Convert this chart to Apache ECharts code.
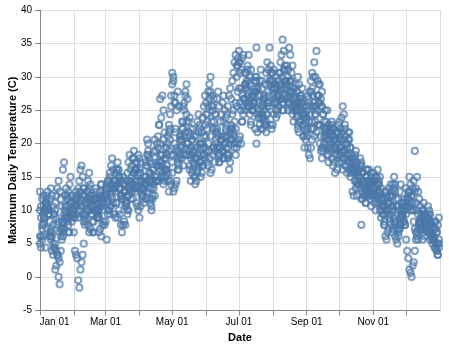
<!DOCTYPE html>
<html><head><meta charset="utf-8">
<script src="https://cdn.jsdelivr.net/npm/echarts@6/dist/echarts.min.js"></script>
<style>html,body{margin:0;padding:0;background:#fff}#c{width:449px;height:347px}</style>
</head><body><div id="c"></div>
<script>
// Tick labels for month starts (every other month labelled)
const tickLabels = ['Jan 01','','Mar 01','','May 01','','Jul 01','','Sep 01','','Nov 01',''];
const yTicks = [-5,0,5,10,15,20,25,30,35,40];

// Daily maximum temperature (C), one list per month, per year
const t2012 = [
[12.8,10.6,11.7,12.2,8.9,4.4,7.2,10.0,9.4,6.1,6.1,6.1,5.0,4.4,1.1,1.7,3.3,0.0,-1.1,7.2,8.3,6.7,8.3,10.0,8.9,8.9,6.7,6.7,9.4,8.3,9.4],
[10.0,8.9,11.7,10.6,12.2,11.1,12.8,10.6,12.2,13.3,8.9,8.3,10.0,7.8,6.7,7.2,10.0,6.7,6.7,10.0,11.1,12.8,8.9,6.7,7.2,6.1,7.8,8.3,7.8],
[8.3,5.6,9.4,10.0,10.6,12.2,13.3,13.9,9.4,8.9,11.1,8.9,10.0,9.4,7.8,6.7,7.8,8.3,7.8,11.1,9.4,10.0,12.8,13.3,13.9,11.7,13.3,12.8,11.1,10.6,10.0],
[8.9,10.6,12.2,11.7,13.3,13.9,17.2,20.6,18.9,15.6,11.7,10.6,11.7,13.9,12.2,14.4,16.7,19.4,22.8,26.7,23.9,27.2,25.0,17.8,15.0,16.1,14.4,12.8,14.4,13.9],
[15.6,12.8,13.3,13.9,14.4,16.1,18.9,20.6,21.1,23.3,25.6,26.1,27.2,24.4,20.0,18.9,16.7,17.8,18.3,16.1,15.0,13.9,14.4,15.6,16.7,17.2,15.0,16.7,20.0,18.3,17.8],
[18.9,17.2,16.7,17.8,15.6,16.1,18.3,19.4,17.2,20.0,22.2,21.1,17.8,19.4,20.6,18.9,17.8,20.0,21.7,24.4,18.3,16.1,17.2,20.6,22.2,25.0,19.4,18.3,19.4,20.0],
[20.6,21.1,20.0,23.3,26.7,25.0,28.9,28.3,31.1,33.3,26.1,22.8,25.0,27.2,26.1,22.2,20.0,21.7,23.9,22.8,25.6,24.4,22.2,25.0,26.7,23.3,26.1,27.8,25.6,22.8,22.2],
[22.8,24.4,26.7,28.3,26.1,27.2,27.8,28.9,30.0,26.7,31.1,31.7,28.3,28.9,31.1,34.4,33.3,29.4,27.8,23.3,26.7,25.6,25.0,30.0,28.9,27.2,26.1,22.8,21.1,24.4,23.3],
[21.1,22.2,23.3,25.6,27.8,28.3,30.0,26.1,24.4,21.7,22.8,27.2,28.9,26.7,25.6,24.4,23.3,25.0,21.7,22.2,20.6,21.7,22.2,23.3,21.1,22.2,19.4,20.6,21.7,22.8],
[23.3,21.1,19.4,18.9,20.6,22.2,20.0,17.8,18.3,17.2,15.6,16.1,12.8,12.2,16.1,14.4,13.9,15.6,15.0,13.3,11.7,12.8,13.9,12.2,11.1,12.2,13.3,16.1,14.4,15.6,13.9],
[14.4,13.3,15.0,13.9,12.2,11.1,10.0,8.9,10.6,9.4,7.8,10.0,12.8,11.7,13.3,11.1,12.2,10.0,13.9,15.0,13.9,10.6,9.4,10.0,7.2,7.8,9.4,8.9,11.1,10.6],
[13.3,11.7,12.8,15.0,10.6,11.1,10.0,8.3,7.2,6.7,6.1,5.6,7.8,8.3,7.2,5.6,6.7,6.1,7.2,7.8,8.9,6.7,5.6,6.1,5.0,5.6,8.3,7.2,6.7,5.0,5.6]
];
const t2013 = [
[5.0,6.1,7.8,9.4,8.9,10.0,11.1,10.6,9.4,6.7,5.6,3.9,3.3,4.4,5.0,3.9,3.3,2.8,2.2,3.9,5.6,6.1,7.2,8.9,10.6,12.2,11.7,13.9,15.0,11.1,10.0],
[10.6,11.1,12.8,9.4,8.9,10.0,11.7,10.6,9.4,8.3,9.4,10.6,11.1,10.0,11.7,12.2,9.4,8.3,10.6,11.7,10.0,8.9,9.4,11.1,12.8,13.9,10.6,11.7],
[12.2,13.3,11.1,10.0,9.4,10.6,11.7,13.3,14.4,12.8,11.1,13.9,16.1,15.0,13.3,12.2,11.7,12.8,10.6,11.1,10.0,12.2,13.9,14.4,16.7,17.8,15.6,13.3,16.1,17.2,18.3],
[17.8,14.4,13.3,12.2,15.0,13.9,11.7,12.8,14.4,13.3,11.1,10.0,12.2,13.3,15.0,14.4,16.7,14.4,17.2,16.1,15.0,18.3,20.6,21.7,19.4,16.7,15.6,18.9,22.2,25.6],
[28.9,29.4,27.2,26.1,25.0,27.8,25.6,21.1,19.4,17.8,16.7,18.3,21.7,23.3,20.0,18.3,16.1,14.4,15.6,17.2,16.7,15.0,17.8,16.1,18.3,20.0,17.2,15.6,16.7,18.3,19.4],
[21.1,23.3,25.6,26.7,27.8,25.6,22.2,19.4,18.9,20.6,21.7,19.4,17.2,18.3,20.6,21.1,23.3,21.1,19.4,18.3,17.8,20.0,21.7,22.2,20.6,21.1,23.3,26.1,30.0,31.7],
[32.2,30.6,28.3,27.2,25.6,26.7,28.9,29.4,27.8,25.6,24.4,23.3,25.6,27.2,28.3,30.0,34.4,24.4,23.9,25.0,27.2,28.3,26.1,23.3,22.8,24.4,25.6,27.2,28.9,30.6,29.4],
[27.2,28.3,26.1,23.9,25.0,27.2,29.4,30.6,28.3,26.1,25.0,27.2,28.9,31.7,30.0,29.4,27.8,25.6,25.0,26.7,28.3,25.6,23.9,22.8,21.7,23.3,25.0,26.1,24.4,22.8,24.4],
[25.6,27.2,26.1,24.4,22.2,23.3,25.6,32.2,30.0,33.9,29.4,26.1,22.8,21.1,19.4,18.9,20.0,21.7,22.2,18.3,17.2,18.9,19.4,17.8,16.7,17.2,15.6,18.3,16.1,17.2],
[18.3,19.4,17.2,16.1,17.8,18.9,16.7,15.6,17.2,16.1,15.0,16.7,17.8,15.6,14.4,13.3,12.2,13.9,15.0,14.4,7.8,11.7,12.2,13.3,11.1,12.8,13.9,12.2,11.7,10.6,12.2],
[13.3,14.4,12.2,11.1,12.8,13.9,15.0,13.3,11.7,10.6,11.7,12.8,10.0,9.4,11.1,12.2,13.9,12.8,10.6,8.9,7.8,8.3,7.2,6.7,7.8,8.9,10.0,9.4,8.3,7.8],
[5.6,3.9,2.8,1.1,0.6,0.0,1.7,2.2,3.9,5.6,6.7,7.2,8.3,7.2,8.9,10.0,9.4,8.3,7.2,8.9,10.6,9.4,7.8,6.7,5.6,6.1,7.2,8.3,6.7,7.8,8.9]
];
const t2014 = [
[10.0,8.9,7.2,6.1,8.3,10.6,11.7,12.8,10.0,11.7,13.3,12.2,10.6,9.4,10.0,8.9,7.8,8.3,6.7,6.1,7.2,7.8,9.4,10.6,9.4,8.3,7.8,8.9,10.0,9.4,8.9],
[6.7,3.9,3.3,2.8,-0.5,-1.6,1.1,2.2,3.3,5.0,7.8,9.4,11.7,12.8,13.3,11.1,10.6,9.4,8.3,10.0,11.7,9.4,8.9,10.0,12.2,13.9,11.1,12.2],
[13.3,12.2,11.7,14.4,15.6,13.9,12.8,11.1,13.3,14.4,16.1,17.2,15.0,13.3,12.2,11.7,13.9,12.8,11.1,10.6,12.2,13.3,14.4,11.7,12.8,13.9,15.6,16.1,14.4,13.3,15.6],
[16.1,17.2,14.4,13.3,12.8,14.4,16.7,18.3,20.0,17.8,15.6,14.4,16.1,18.9,20.6,17.2,15.0,14.4,16.7,18.3,17.2,15.6,13.9,14.4,16.1,18.3,20.0,21.7,24.4,27.2],
[30.6,30.0,26.1,22.2,18.9,17.2,16.1,17.8,19.4,20.6,22.2,25.0,27.8,28.9,26.7,23.3,21.1,19.4,20.6,22.2,21.1,18.9,17.8,19.4,21.7,22.8,20.0,18.3,19.4,21.1,22.8],
[24.4,22.2,20.0,18.9,21.1,23.3,25.6,26.7,24.4,21.7,19.4,18.3,17.2,19.4,20.6,18.9,17.8,20.0,22.2,21.1,19.4,18.3,20.6,22.8,24.4,21.7,20.0,22.2,25.6,27.8],
[28.3,26.1,25.0,23.3,24.4,26.7,28.9,30.6,31.7,29.4,30.0,31.1,27.2,25.0,26.1,27.8,29.4,28.3,26.1,24.4,22.2,23.9,25.6,27.2,28.9,30.6,32.2,31.1,34.4,29.4,28.3],
[30.6,31.1,28.9,27.2,28.3,29.4,30.6,32.2,33.3,35.6,33.9,31.1,29.4,26.7,25.0,26.1,27.8,26.7,24.4,25.6,27.2,28.9,27.8,26.1,25.0,26.7,27.2,28.3,25.6,23.9,22.2],
[23.9,25.0,26.7,27.8,29.4,30.6,27.2,25.6,24.4,25.0,27.2,28.9,26.1,25.6,27.8,24.4,22.2,21.1,23.3,25.0,22.8,20.6,19.4,21.1,22.2,20.6,19.4,18.3,20.0,21.7],
[20.6,22.2,23.9,25.6,24.4,22.8,21.1,19.4,20.6,21.7,19.4,18.3,17.2,16.1,17.8,18.9,17.2,16.1,15.0,16.7,17.2,15.6,14.4,13.3,15.0,16.1,14.4,12.8,13.9,15.0,14.4],
[15.6,14.4,13.3,15.0,16.1,14.4,12.8,11.7,10.6,9.4,7.8,6.1,5.6,6.7,7.2,8.3,9.4,10.6,12.2,13.3,12.8,11.7,10.6,11.7,12.8,13.9,11.1,10.0,8.3,7.8],
[9.4,10.6,11.7,12.8,13.9,12.2,11.1,10.0,18.9,13.3,15.0,12.8,11.7,10.6,9.4,10.0,11.1,9.4,8.3,7.8,8.9,10.0,9.4,8.3,7.2,6.1,5.6,4.4,3.9,3.3,5.0]
];
const t2015 = [
[6.1,4.4,5.6,7.8,10.0,11.1,12.2,10.6,9.4,8.3,7.2,6.7,7.8,9.4,11.1,12.2,13.3,14.4,12.8,11.7,10.6,16.1,17.2,12.2,13.3,11.7,12.8,10.6,11.1,12.2,10.0],
[9.4,10.6,12.2,11.7,13.3,14.4,16.1,16.7,15.0,13.3,12.2,11.1,12.8,14.4,15.6,13.9,12.2,11.7,10.6,12.2,13.3,11.7,10.0,8.9,10.6,11.7,10.0,11.1],
[12.8,13.9,14.4,13.3,15.0,16.7,17.8,16.1,14.4,13.3,15.6,16.1,14.4,13.3,12.2,14.4,15.0,13.9,12.8,14.4,15.6,17.2,18.3,16.1,15.0,17.8,18.9,17.2,16.1,14.4,13.3],
[14.4,15.6,13.3,12.2,11.1,13.9,15.0,16.7,18.3,17.2,15.0,13.3,14.4,16.1,17.8,18.9,20.0,21.1,22.8,20.0,18.3,16.7,15.0,16.1,17.8,19.4,21.1,22.8,20.6,18.3],
[17.2,18.3,20.0,21.7,19.4,17.8,16.7,18.3,20.6,22.2,23.3,21.1,19.4,18.3,20.0,21.7,23.9,22.2,20.6,18.9,17.8,19.4,21.1,23.3,24.4,22.2,20.0,21.7,23.9,25.6,27.2],
[26.1,24.4,27.8,28.9,30.0,27.2,25.0,23.3,22.2,24.4,26.7,27.8,25.6,23.3,24.4,26.1,27.2,25.0,23.9,22.8,25.6,27.2,28.3,26.7,29.4,30.6,32.2,33.3,31.7,32.8],
[33.9,32.2,31.1,32.8,33.3,30.6,28.3,26.1,25.6,27.2,28.9,26.7,25.0,26.1,27.8,29.4,30.0,28.3,27.2,29.4,31.1,29.4,26.7,23.9,22.8,21.7,24.4,26.1,29.4,31.7,30.6],
[29.4,28.3,26.1,25.0,24.4,25.6,27.2,28.9,26.7,25.0,26.1,28.3,29.4,27.8,26.1,27.2,29.4,30.6,31.7,28.3,26.1,25.0,24.4,22.2,23.3,25.6,26.7,24.4,21.1,19.4,20.6],
[21.7,19.4,18.3,17.8,19.4,20.6,22.2,21.1,23.3,25.6,27.2,22.8,20.0,18.9,17.8,19.4,21.1,22.2,20.6,19.4,18.3,20.0,21.7,22.8,21.1,19.4,20.6,21.7,18.9,17.8],
[19.4,20.6,21.7,18.9,17.8,16.7,18.3,20.0,21.7,20.6,19.4,17.8,16.1,17.2,18.3,16.7,15.6,14.4,16.1,17.8,16.7,15.6,14.4,13.3,15.0,16.1,14.4,13.3,12.2,13.9,12.8],
[12.2,11.1,10.0,11.7,12.8,13.9,12.2,11.1,10.0,9.4,8.3,10.6,12.2,11.1,10.0,8.9,7.8,6.7,7.2,8.3,6.1,5.6,5.0,6.1,7.2,8.3,9.4,10.6,11.7,10.0],
[10.6,11.7,12.2,11.1,10.0,12.2,13.3,14.4,12.8,11.1,10.0,9.4,8.3,7.8,8.9,7.2,8.3,9.4,8.9,7.8,6.7,7.2,8.3,7.8,6.7,5.6,4.4,5.0,3.9,3.3,4.4]
];

const years = [t2012, t2013, t2014, t2015];
const points = [];
years.forEach(yr => {
  yr.forEach((month, m) => {
    month.forEach((v, d) => {
      points.push([new Date(2012, m, d + 1).getTime(), v]);
    });
  });
});
const monthStarts = tickLabels.map((_, m) => new Date(2012, m, 1).getTime());
const labelFor = {};
monthStarts.forEach((t, m) => { labelFor[t] = tickLabels[m]; });

const font = 'Liberation Sans, Arial, Helvetica, sans-serif';
const chart = echarts.init(document.getElementById('c'), null, {renderer: 'canvas'});
chart.setOption({
  animation: false,
  backgroundColor: '#fff',
  grid: {left: 40, top: 10.3, width: 400, height: 300, containLabel: false, outerBoundsMode: 'none'},
  xAxis: {
    type: 'value',
    min: new Date(2012, 0, 1).getTime(),
    max: new Date(2013, 0, 1).getTime(),
    name: 'Date', nameLocation: 'middle', nameGap: 22, nameMoveOverlap: false,
    nameTextStyle: {fontFamily: font, fontSize: 11, fontWeight: 'bold', color: '#000'},
    axisLine: {onZero: false, lineStyle: {color: '#888', width: 1}},
    axisTick: {show: true, length: 5, customValues: monthStarts, lineStyle: {color: '#888'}},
    axisLabel: {
      customValues: monthStarts, margin: 7,
      fontFamily: font, fontSize: 10, color: '#000',
      formatter: v => {
        const s = labelFor[v] || '';
        if (!s) return '';
        return v === monthStarts[0] ? '{f|' + s + '}' : s;
      },
      rich: {f: {fontFamily: font, fontSize: 10, color: '#000', padding: [0, 0, 0, 29]}}
    },
    splitLine: {show: true, lineStyle: {color: '#ddd', width: 1}}
  },
  yAxis: [{
    type: 'value', min: yTicks[0], max: yTicks[yTicks.length - 1], interval: 5,
    name: 'Maximum Daily Temperature (C)', nameLocation: 'middle', nameGap: 22, nameMoveOverlap: false,
    nameTextStyle: {fontFamily: font, fontSize: 11, fontWeight: 'bold', color: '#000'},
    axisLine: {show: true, lineStyle: {color: '#888'}},
    axisTick: {show: true, length: 5, lineStyle: {color: '#888'}},
    axisLabel: {margin: 8, fontFamily: font, fontSize: 10, color: '#000'},
    splitLine: {show: true, lineStyle: {color: '#ddd'}}
  }, {
    type: 'value', position: 'right', min: yTicks[0], max: yTicks[yTicks.length - 1],
    axisLine: {show: true, lineStyle: {color: '#ddd'}},
    axisTick: {show: false}, axisLabel: {show: false}, splitLine: {show: false}
  }],
  series: [{
    type: 'scatter', data: points, symbol: 'circle', symbolSize: 6.2,
    itemStyle: {color: 'rgba(0,0,0,0)', borderColor: '#4c78a8', borderWidth: 2, opacity: 0.7},
    emphasis: {disabled: true}, silent: true, large: false
  }]
});
</script>
</body></html>
